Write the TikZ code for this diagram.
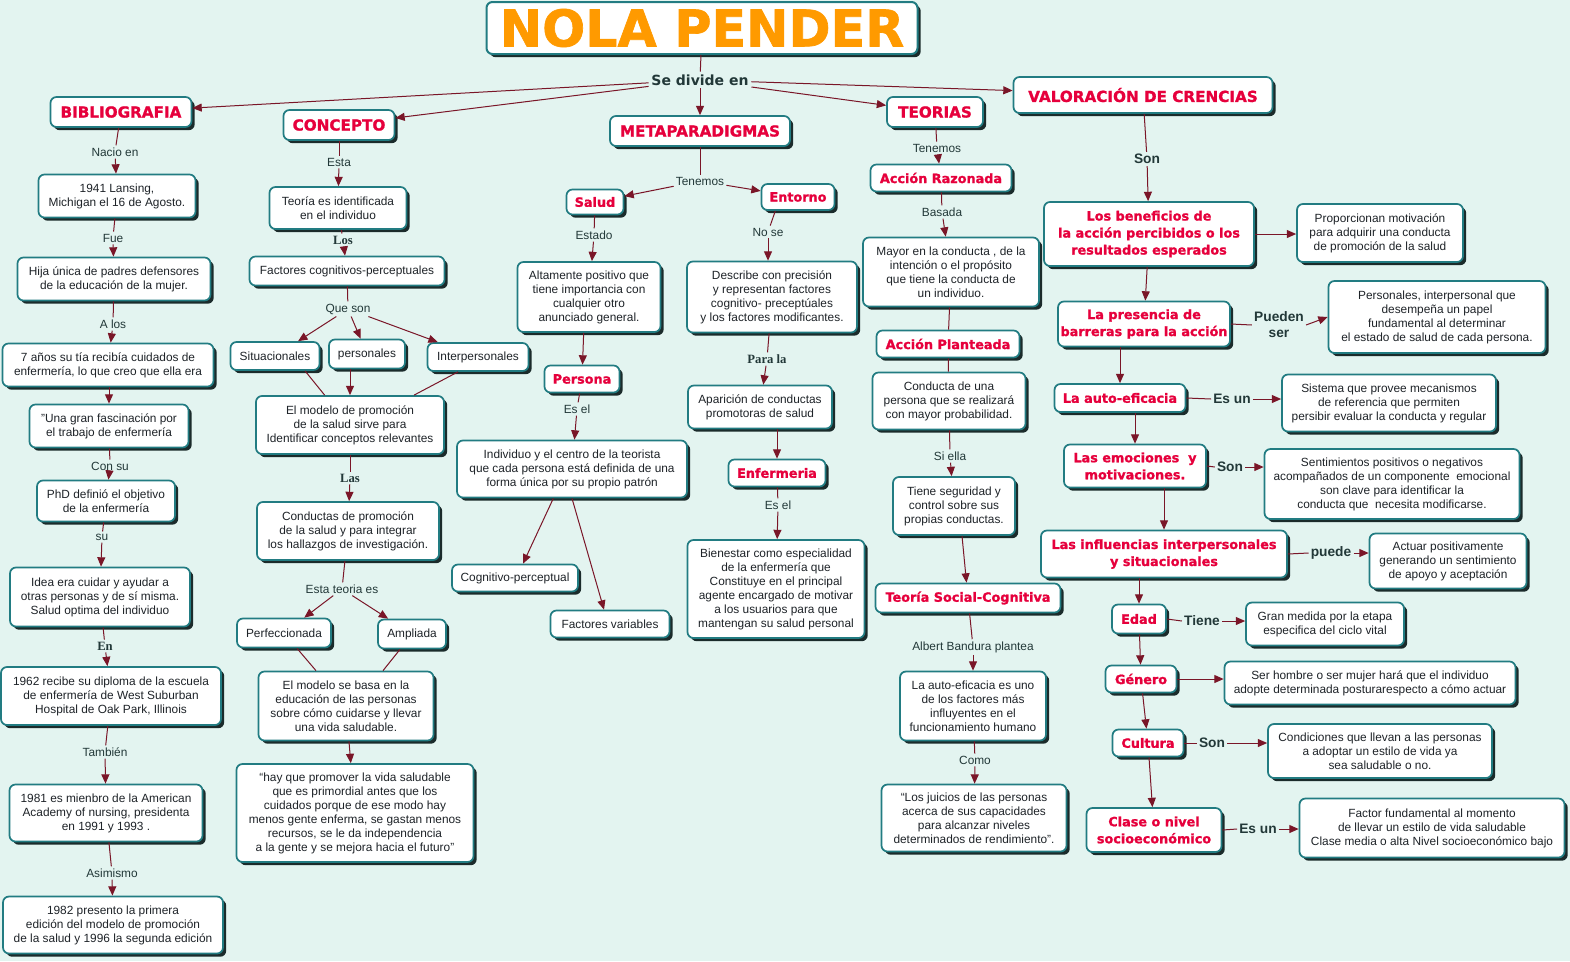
\documentclass[tikz,border=0pt]{standalone}
\usepackage{fontspec}
\setmainfont{Liberation Sans}
\newfontfamily\hdrfam{DejaVu Sans}[BoldFeatures={FakeBold=1.3}]
\newfontfamily\sdfam{DejaVu Sans}
\newfontfamily\serfam{Liberation Serif}
\usetikzlibrary{shadows,arrows.meta}
\definecolor{bgc}{HTML}{E3F4F0}
\definecolor{bord}{HTML}{227C82}
\definecolor{shad}{HTML}{1B2B2B}
\definecolor{arc}{HTML}{7A1628}
\definecolor{hred}{HTML}{E6003C}
\definecolor{bodyc}{HTML}{1E2328}
\definecolor{labc}{HTML}{223838}
\definecolor{orng}{HTML}{FF9A00}
\newcommand\mybody{\fontsize{8.9}{10.5}\selectfont}
\newcommand\myhd{\hdrfam\bfseries\fontsize{11.4}{13}\selectfont}
\newcommand\mysh{\hdrfam\bfseries\fontsize{9.6}{12.75}\selectfont}
\newcommand\mylab{\fontsize{8.9}{10.5}\selectfont}
\newcommand\myblab{\bfseries\fontsize{10.3}{12}\selectfont}
\newcommand\myslab{\serfam\bfseries\fontsize{9.5}{11}\selectfont}
\newcommand\mytit{\hdrfam\bfseries\fontsize{38}{40}\selectfont}
\tikzset{
  box/.style={draw=bord, line width=1.3pt, fill=white, rounded corners=4.5pt,
    drop shadow={shadow xshift=2.4pt, shadow yshift=-2.4pt, fill=shad, opacity=1},
    align=center, inner sep=1pt, font=\mybody, text=bodyc},
  wh/.style 2 args={minimum width={#1*0.75pt}, minimum height={#2*0.75pt}},
  hd/.style={box, font=\myhd, text=hred},
  sh/.style={box, font=\mysh, text=hred},
  lab/.style={font=\mylab, text=labc, inner sep=1.5pt, align=center},
  blab/.style={font=\myblab, text=labc, inner sep=1.5pt, align=center},
  slab/.style={font=\myslab, text=labc, inner sep=1.5pt},
  ln/.style={draw=arc, line width=0.75pt},
  ar/.style={ln, -{Triangle[length=7pt,width=6pt]}}
}
\begin{document}
\begin{tikzpicture}[x=0.75pt,y=-0.75pt]
\fill[bgc] (0,0) rectangle (1570,961);
\useasboundingbox (0,0) rectangle (1570,961);

% ---------- title ----------
\node[box, wh={431}{52}, font=\mytit, text=orng, line width=1.5pt] (tit) at (702,28) {NOLA PENDER};
\node[font=\sdfam\bfseries\fontsize{10.5}{12}\selectfont, text=labc, inner sep=2pt] (sd) at (700,80) {Se divide en};

% ---------- headers ----------
\node[hd, wh={141}{30}] (bib) at (121,112) {BIBLIOGRAFIA};
\node[hd, wh={111}{30}] (con) at (339,125) {CONCEPTO};
\node[hd, wh={180}{30}] (met) at (700,131) {METAPARADIGMAS};
\node[hd, wh={96}{30}] (teo) at (935,112) {TEORIAS};
\node[hd, wh={259}{36}] (val) at (1143,95) {VALORACIÓN DE CRENCIAS};

% ---------- bibliografia column ----------
\node[lab] (l1) at (115,152) {Nacio en};
\node[box, wh={157}{43}] (b1) at (117,196) {1941 Lansing,\\Michigan el 16 de Agosto.};
\node[lab] (l2) at (113,238) {Fue};
\node[box, wh={193}{43}] (b2) at (114,279) {Hija única de padres defensores\\de la educación de la mujer.};
\node[lab] (l3) at (113,324) {A los};
\node[box, wh={211}{43}] (b3) at (108,365) {7 años su tía recibía cuidados de\\enfermería, lo que creo que ella era};
\node[box, wh={159}{43}] (b4) at (109,426) {"Una gran fascinación por\\el trabajo de enfermería};
\node[lab] (l4) at (110,466) {Con su};
\node[box, wh={138}{41}] (b5) at (106,501) {PhD definió el objetivo\\de la enfermería};
\node[lab] (l5) at (102,537) {su};
\node[box, wh={180}{59}] (b6) at (100,597) {Idea era cuidar y ayudar a\\otras personas y de sí misma.\\Salud optima del individuo};
\node[slab] (l6) at (105,646) {En};
\node[box, wh={220}{58}] (b7) at (111,696) {1962 recibe su diploma de la escuela\\de enfermería de West Suburban\\Hospital de Oak Park, Illinois};
\node[lab] (l7) at (105,752) {También};
\node[box, wh={193}{57}] (b8) at (106,813) {1981 es mienbro de la American\\Academy of nursing, presidenta\\en 1991 y 1993 .};
\node[lab] (l8) at (112,873) {Asimismo};
\node[box, wh={220}{57}] (b9) at (113,925) {1982 presento la primera\\edición del modelo de promoción\\de la salud y 1996 la segunda edición};

% ---------- concepto column ----------
\node[lab] (l9) at (339,162) {Esta};
\node[box, wh={137}{42}] (c1) at (338,208) {Teoría es identificada\\en el individuo};
\node[slab] (l10) at (343,240) {Los};
\node[box, wh={195}{29}] (c2) at (347,271) {Factores cognitivos-perceptuales};
\node[lab] (l11) at (348,309) {Que son};
\node[box, wh={89}{28}] (c3) at (275,356) {Situacionales};
\node[box, wh={76}{29}] (c4) at (367,354) {personales};
\node[box, wh={101}{28}] (c5) at (478,357) {Interpersonales};
\node[box, wh={188}{58}] (c6) at (350,425) {El modelo de promoción\\de la salud sirve para\\Identificar conceptos relevantes};
\node[slab] (l12) at (350,478) {Las};
\node[box, wh={182}{58}] (c7) at (348,531) {Conductas de promoción\\de la salud y para integrar\\los hallazgos de investigación.};
\node[lab] (l13) at (342,589) {Esta teoria es};
\node[box, wh={94}{29}] (c8) at (284,633) {Perfeccionada};
\node[box, wh={68}{29}] (c9) at (412,634) {Ampliada};
\node[box, wh={175}{69}] (c10) at (346,706) {El modelo se basa en la\\educación de las personas\\sobre cómo cuidarse y llevar\\una vida saludable.};
\node[box, wh={237}{98}] (c11) at (355,813) {“hay que promover la vida saludable\\que es primordial antes que los\\cuidados porque de ese modo hay\\menos gente enferma, se gastan menos\\recursos, se le da independencia\\a la gente y se mejora hacia el futuro”};

% ---------- metaparadigmas column ----------
\node[lab] (l14) at (700,181) {Tenemos};
\node[sh, wh={57}{25}] (sal) at (595,202) {Salud};
\node[sh, wh={73}{26}] (ent) at (798,197) {Entorno};
\node[lab] (l15) at (594,235) {Estado};
\node[box, wh={143}{70}] (m1) at (589,297) {Altamente positivo que\\tiene importancia con\\cualquier otro\\anunciado general.};
\node[lab] (l16) at (768,232) {No se};
\node[box, wh={170}{71}] (m2) at (772,297) {Describe con precisión\\y representan factores\\cognitivo- preceptúales\\y los factores modificantes.};
\node[sh, wh={75}{27}] (per) at (582,379) {Persona};
\node[lab] (l17) at (577,409) {Es el};
\node[box, wh={230}{57}] (m3) at (572,469) {Individuo y el centro de la teorista\\que cada persona está definida de una\\forma única por su propio patrón};
\node[slab] (l18) at (767,359) {Para la};
\node[box, wh={144}{43}] (m4) at (760,407) {Aparición de conductas\\promotoras de salud};
\node[sh, wh={97}{27}] (enf) at (777,473) {Enfermeria};
\node[lab] (l19) at (778,505) {Es el};
\node[box, wh={177}{98}] (m5) at (776,589) {Bienestar como especialidad\\de la enfermería que\\Constituye en el principal\\agente encargado de motivar\\a los usuarios para que\\mantengan su salud personal};
\node[box, wh={126}{27}] (m6) at (515,578) {Cognitivo-perceptual};
\node[box, wh={119}{27}] (m7) at (610,624) {Factores variables};

% ---------- teorias column ----------
\node[lab] (l20) at (937,148) {Tenemos};
\node[sh, wh={141}{27}] (t1) at (941,178) {Acción Razonada};
\node[lab] (l21) at (942,212) {Basada};
\node[box, wh={176}{69}] (t2) at (951,272) {Mayor en la conducta , de la\\intención o el propósito\\que tiene la conducta de\\un individuo.};
\node[sh, wh={143}{27}] (t3) at (948,344) {Acción Planteada};
\node[box, wh={153}{57}] (t4) at (949,401) {Conducta de una\\persona que se realizará\\con mayor probabilidad.};
\node[lab] (l22) at (950,456) {Si ella};
\node[box, wh={122}{58}] (t5) at (954,506) {Tiene seguridad y\\control sobre sus\\propias conductas.};
\node[sh, wh={185}{29}] (t6) at (968,598) {Teoría Social-Cognitiva};
\node[lab] (l23) at (973,647) {Albert Bandura plantea};
\node[box, wh={146}{69}] (t7) at (973,706) {La auto-eficacia es uno\\de los factores más\\influyentes en el\\funcionamiento humano};
\node[lab] (l24) at (975,760) {Como};
\node[box, wh={185}{67}] (t8) at (974,818) {“Los juicios de las personas\\acerca de sus capacidades\\para alcanzar niveles\\determinados de rendimiento”.};

% ---------- valoracion column ----------
\node[blab] (l25) at (1147,159) {Son};
\node[sh, wh={210}{64}] (v1) at (1149,234) {Los beneficios de\\la acción percibidos o los\\resultados esperados};
\node[box, wh={166}{58}] (p1) at (1380,233) {Proporcionan motivación\\para adquirir una conducta\\de promoción de la salud};
\node[sh, wh={172}{45}] (v2) at (1144,324) {La presencia de\\barreras para la acción};
\node[blab] (l26) at (1279,325) {Pueden\\ser};
\node[box, wh={217}{72}] (p2) at (1437,317) {Personales, interpersonal que\\desempeña un papel\\fundamental al determinar\\el estado de salud de cada persona.};
\node[sh, wh={131}{28}] (v3) at (1120,398) {La auto-eficacia};
\node[blab] (l27) at (1232,399) {Es un};
\node[box, wh={214}{57}] (p3) at (1389,403) {Sistema que provee mecanismos\\de referencia que permiten\\persibir evaluar la conducta y regular};
\node[sh, wh={142}{43}] (v4) at (1135,466) {Las emociones\ \ y\\motivaciones.};
\node[blab] (l28) at (1230,467) {Son};
\node[box, wh={255}{70}] (p4) at (1392,484) {Sentimientos positivos o negativos\\acompañados de un componente\ \ emocional\\son clave para identificar la\\conducta que\ \ necesita modificarse.};
\node[sh, wh={246}{47}] (v5) at (1164,554) {Las influencias interpersonales\\y situacionales};
\node[blab] (l29) at (1331,553) {puede};
\node[box, wh={157}{55}] (p5) at (1448,561) {Actuar positivamente\\generando un sentimiento\\de apoyo y aceptación};
\node[sh, wh={54}{29}] (v6) at (1139,619) {Edad};
\node[blab] (l30) at (1202,621) {Tiene};
\node[box, wh={158}{43}] (p6) at (1325,624) {Gran medida por la etapa\\especifica del ciclo vital};
\node[sh, wh={71}{27}] (v7) at (1141,679) {Género};
\node[box, wh={291}{43}] (p7) at (1370,683) {Ser hombre o ser mujer hará que el individuo\\adopte determinada posturarespecto a cómo actuar};
\node[sh, wh={71}{27}] (v8) at (1148,743) {Cultura};
\node[blab] (l31) at (1212,743) {Son};
\node[box, wh={224}{54}] (p8) at (1380,751) {Condiciones que llevan a las personas\\a adoptar un estilo de vida ya\\sea saludable o no.};
\node[sh, wh={135}{44}] (v9) at (1154,830) {Clase o nivel\\socioeconómico};
\node[blab] (l32) at (1258,829) {Es un};
\node[box, wh={265}{59}] (p9) at (1432,828) {Factor fundamental al momento\\de llevar un estilo de vida saludable\\Clase media o alta Nivel socioeconómico bajo};

% ---------- connectors ----------
\draw[ln] (tit) -- (sd);
\draw[ar] (sd) -- (bib);
\draw[ar] (sd) -- (con);
\draw[ar] (sd) -- (met);
\draw[ar] (sd) -- (teo);
\draw[ar] (sd) -- (val);

% bibliografia
\draw[ln] (bib) -- (l1); \draw[ar] (l1) -- (b1);
\draw[ln] (b1) -- (l2); \draw[ar] (l2) -- (b2);
\draw[ln] (b2) -- (l3); \draw[ar] (l3) -- (b3);
\draw[ar] (b3.south -| b4.north) -- (b4.north);
\draw[ln] (b4) -- (l4); \draw[ar] (l4) -- (b5);
\draw[ln] (b5) -- (l5); \draw[ar] (l5) -- (b6);
\draw[ln] (b6) -- (l6); \draw[ar] (l6) -- (b7);
\draw[ln] (b7) -- (l7); \draw[ar] (l7) -- (b8);
\draw[ln] (b8) -- (l8); \draw[ar] (l8) -- (b9);

% concepto
\draw[ln] (con) -- (l9); \draw[ar] (l9) -- (c1);
\draw[ln] (c1) -- (l10); \draw[ar] (l10) -- (c2);
\draw[ln] (c2) -- (l11);
\draw[ar] (l11) -- (c3);
\draw[ar] (l11) -- (c4);
\draw[ar] (l11) -- (c5);
\draw[ln] ([xshift=22.5pt]c3.south) -- ([xshift=-19pt]c6.north);
\draw[ar] (c4.south -| c6.north) -- (c6.north);
\draw[ln] ([xshift=-15pt]c5.south) -- ([xshift=48pt]c6.north);
\draw[ln] (c6) -- (l12); \draw[ar] (l12) -- (c7);
\draw[ln] (c7) -- (l13);
\draw[ar] (l13) -- (c8);
\draw[ar] (l13) -- (c9);
\draw[ln] ([xshift=9.75pt]c8.south) -- ([xshift=-22.5pt]c10.north);
\draw[ln] ([xshift=-9pt]c9.south) -- ([xshift=27.75pt]c10.north);
\draw[ar] (c10) -- (c11);

% metaparadigmas
\draw[ln] (met) -- (l14);
\draw[ar] (l14) -- (sal);
\draw[ar] (l14) -- (ent);
\draw[ln] (sal) -- (l15); \draw[ar] (l15) -- (m1);
\draw[ar] ([xshift=-4pt]m1.south) -- (per);
\draw[ln] (per) -- (l17); \draw[ar] (l17) -- (m3);
\draw[ar] ([xshift=-14pt]m3.south) -- ([xshift=6pt]m6.north);
\draw[ar] (m3.south) -- ([xshift=-4.5pt]m7.north);
\draw[ln] ([xshift=-17pt]ent.south) -- (l16);
\draw[ar] (l16) -- ([xshift=-3pt]m2.north);
\draw[ln] (m2) -- (l18); \draw[ar] (l18) -- (m4);
\draw[ar] (m4.south -| enf.north) -- (enf.north);
\draw[ln] (enf) -- (l19); \draw[ar] (l19) -- (m5);

% teorias
\draw[ln] (teo) -- (l20); \draw[ar] (l20) -- (t1);
\draw[ln] (t1) -- (l21); \draw[ar] (l21) -- (t2);
\draw[ln] (t2) -- (t3);
\draw[ln] (t3) -- (t4);
\draw[ln] (t4) -- (l22); \draw[ar] (l22) -- (t5);
\draw[ar] ([xshift=6pt]t5.south) -- (t6);
\draw[ln] (t6) -- (l23); \draw[ar] (l23) -- (t7);
\draw[ln] (t7) -- (l24); \draw[ar] (l24) -- (t8);

% valoracion
\draw[ln] (val) -- (l25); \draw[ar] (l25) -- (v1);
\draw[ar] (v1.east) -- (v1.east -| p1.west);
\draw[ar] (v1) -- (v2);
\draw[ln] (v2.east) -- (l26.west); \draw[ar] (l26.east) -- (p2.west);
\draw[ar] (v3.north |- v2.south) -- (v3.north);
\draw[ln] (v3.east) -- (l27.west); \draw[ar] (l27.east) -- (l27.east -| p3.west);
\draw[ar] (v3.south -| v4.north) -- (v4.north);
\draw[ln] (v4.east) -- (l28.west); \draw[ar] (l28.east) -- (l28.east -| p4.west);
\draw[ar] (v4.south -| v5.north) -- (v5.north);
\draw[ln] (v5.east) -- (l29.west); \draw[ar] (l29.east) -- (l29.east -| p5.west);
\draw[ar] (v5.south -| v6.north) -- (v6.north);
\draw[ln] (v6.east) -- (l30.west); \draw[ar] (l30.east) -- (l30.east -| p6.west);
\draw[ar] (v6) -- (v7);
\draw[ar] (v7.east) -- (v7.east -| p7.west);
\draw[ar] (v7) -- (v8);
\draw[ln] (v8.east) -- (l31.west); \draw[ar] (l31.east) -- (l31.east -| p8.west);
\draw[ar] (v8) -- (v9);
\draw[ln] (v9.east) -- (l32.west); \draw[ar] (l32.east) -- (l32.east -| p9.west);
\end{tikzpicture}
\end{document}
